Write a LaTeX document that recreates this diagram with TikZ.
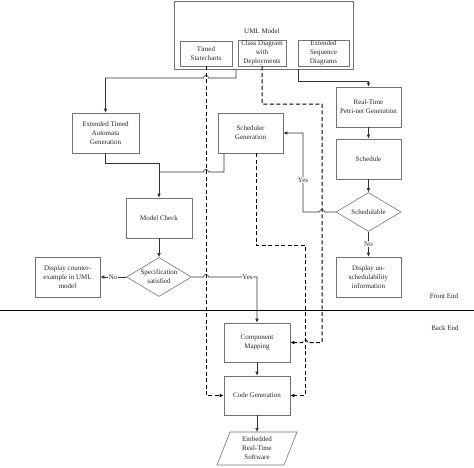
\documentclass[tikz,border=0pt]{standalone}
\usepackage{fontspec}
\setmainfont{Liberation Serif}
\usetikzlibrary{arrows.meta,shapes.geometric}
\begin{document}
\begin{tikzpicture}[x=1pt,y=-1pt,
  txt/.style={font=\fontsize{7}{9}\selectfont, text=black!85, align=center, inner sep=0pt},
  box/.style={txt, draw=black!55, line width=0.6pt, rectangle},
  dia/.style={draw=black!55, line width=0.6pt, diamond, inner sep=0pt, minimum width=65pt, minimum height=39pt},
  shp/.style={draw=black!55, line width=0.6pt},
  conn/.style={draw=black!80, line width=0.6pt},
  dsh/.style={draw=black, line width=1pt, dash pattern=on 4pt off 2.5pt},
  tip/.style={-{Latex[length=4pt,width=3.6pt]}},
  lbl/.style={txt, fill=white, inner sep=0.8pt},
  sepline/.style={draw=black, line width=1pt}]
\useasboundingbox (0,0) rectangle (474,467);

% UML model
\node[box, minimum width=179pt, minimum height=68pt] (uml) at (263.5,35) {};
\node[txt] (umlt) at (262,31) {UML Model};
\node[box, minimum width=52pt, minimum height=25pt] (ts) at (206,53.5) {Timed\\Statecharts};
\node[box, minimum width=48pt, minimum height=26pt] (cd) at (262,53) {Class Diagram\\with\\Deployments};
\node[box, minimum width=51pt, minimum height=26pt] (esd) at (323.5,53) {Extended\\Sequence\\Diagrams};

% left column
\node[box, minimum width=67pt, minimum height=40pt] (eta) at (105.5,133) {Extended Timed\\Automata\\Generation};
\node[box, minimum width=66pt, minimum height=40pt] (mc) at (159,218) {Model Check};
\node[dia, label={[txt]center:Specification\\satisfied}] (spec) at (159,277) {};
\node[box, minimum width=65pt, minimum height=40pt] (dce) at (67.5,277) {Display counter-\\example in UML\\model};

% middle
\node[box, minimum width=65pt, minimum height=40pt] (sg) at (250.5,133) {Scheduler\\Generation};
\node[box, minimum width=66pt, minimum height=39pt] (cm) at (257,342.5) {Component\\Mapping};
\node[box, minimum width=66pt, minimum height=39pt] (cg) at (257,395.5) {Code Generation};
\draw[shp] (230,432) -- (297,432) -- (284,465) -- (217,465) -- cycle;
\node[txt] (ers) at (257,448.5) {Embedded\\Real-Time\\Software};
\coordinate (erstop) at (257,432);

% right column
\node[box, minimum width=65pt, minimum height=40pt] (rtp) at (368.5,107) {Real-Time\\Petri-net Generation};
\node[box, minimum width=65pt, minimum height=40pt] (sch) at (368.5,159) {Schedule};
\node[dia, label={[txt]center:Schedulable}] (sable) at (368.5,212) {};
\node[box, minimum width=65pt, minimum height=40pt] (dun) at (368.5,277) {Display un-\\schedulability\\information};

% front / back end
\coordinate (fl) at (0,310);
\coordinate (fr) at (474,310);
\draw[sepline] (fl) -- (fr);
\node[txt] (fe) at (444,296) {Front End};
\node[txt] (be) at (445,328) {Back End};

% dashed connectors
\draw[dsh,tip] (ts.south) -- (206,395.5) -- (cg.west);
\draw[dsh,tip] (cd.south) -- (262,104) -- (322,104) -- (322,342.5) -- (307.5,342.5)
  .. controls (307.5,339) and (302.5,339) .. (302.5,342.5) -- (cm.east);
\draw[dsh,tip] ([xshift=5.5pt]sg.south) -- (256,245) -- (305,245) -- (305,395.5) -- (cg.east);

% solid connectors
\draw[conn,tip] ([xshift=-27.5pt]uml.south) -- (236,78) -- (208.5,78)
  .. controls (208.5,74.5) and (203.5,74.5) .. (203.5,78) -- (105.5,78) -- (eta.north);
\draw[conn,tip] ([xshift=34.5pt]uml.south) -- (298,81) -- (368.5,81) -- (rtp.north);
\draw[conn,tip] (eta.south) -- (105.5,163) -- (159,163) -- (mc.north);
\coordinate (join) at (159,172);
\draw[conn] ([xshift=-26.5pt]sg.south) -- (224,172) -- (208.5,172)
  .. controls (208.5,168.5) and (203.5,168.5) .. (203.5,172) -- (join);
\draw[conn,tip] (mc.south) -- (spec.north);
\draw[conn,tip] (spec.west) -- node[lbl] (no1) {No} (dce.east);
\draw[conn,tip] (spec.east) -- (203.5,277)
  .. controls (203.5,273.5) and (208.5,273.5) .. (208.5,277) -- (257,277) -- (cm.north);
\node[lbl] (yes1) at (247.5,277) {Yes};
\draw[conn,tip] (rtp.south) -- (sch.north);
\draw[conn,tip] (sch.south) -- (sable.north);
\draw[conn,tip] (sable.west) -- (324.5,212)
  .. controls (324.5,208.5) and (319.5,208.5) .. (319.5,212) -- (303,212) -- (303,133) -- (sg.east);
\node[lbl] (yes2) at (303,180) {Yes};
\draw[conn,tip] (sable.south) -- node[lbl] (no2) {No} (dun.north);
\draw[conn,tip] (cm.south) -- (cg.north);
\draw[conn,tip] (cg.south) -- (erstop);
\end{tikzpicture}
\end{document}
